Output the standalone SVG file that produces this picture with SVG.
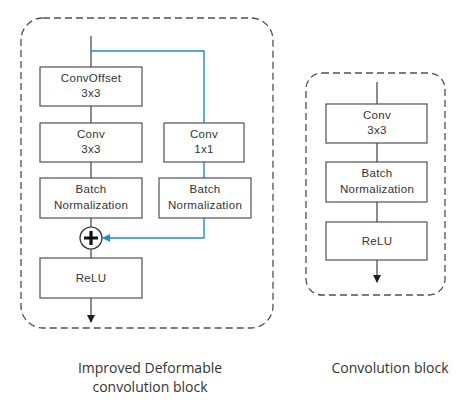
<svg xmlns="http://www.w3.org/2000/svg" width="474" height="411" viewBox="0 0 474 411">
<defs>
<style>
.blk{fill:#fff;stroke:#505050;stroke-width:1.2}
.dash{fill:none;stroke:#505050;stroke-width:1.3;stroke-dasharray:7 4}
.ln{fill:none;stroke:#404040;stroke-width:1.2}
.bl{fill:none;stroke:#1a8fd0;stroke-width:1.4}
.t{font-family:"Liberation Sans",Arial,sans-serif;font-size:11.5px;letter-spacing:0.3px;fill:#333;text-anchor:middle}
.cap{font-family:"Open Sans","Liberation Sans",sans-serif;font-size:14px;fill:#333;text-anchor:middle}
</style>
<marker id="ak" markerWidth="8" markerHeight="8" refX="7" refY="4" orient="auto" markerUnits="userSpaceOnUse"><path d="M0,0 L8,4 L0,8 Z" fill="#202020"/></marker>
<marker id="ab" markerWidth="8" markerHeight="8" refX="7" refY="4" orient="auto" markerUnits="userSpaceOnUse"><path d="M0,0 L8,4 L0,8 Z" fill="#1a8fd0"/></marker>
</defs>
<rect width="474" height="411" fill="#fff"/>
<rect class="dash" x="21" y="18" width="252" height="310" rx="22"/>
<rect class="dash" x="306" y="73" width="139" height="222" rx="16"/>
<g id="connectors">
<path class="ln" d="M91,36 V67"/>
<path class="ln" d="M91,106 V123"/>
<path class="ln" d="M91,162 V178"/>
<path class="ln" d="M91,218 V227"/>
<path class="ln" d="M91,249 V258"/>
<path class="ln" d="M91,298 V322" marker-end="url(#ak)"/>
<path class="bl" d="M91,51 H204 V123"/>
<path class="bl" d="M204,162 V178"/>
<path class="bl" d="M204,218 V238 H103" marker-end="url(#ab)"/>
<path class="ln" d="M377,82 V104"/>
<path class="ln" d="M377,143 V162"/>
<path class="ln" d="M377,202 V222"/>
<path class="ln" d="M377,260 V282" marker-end="url(#ak)"/>
</g>
<g id="convoffset"><rect class="blk" x="40" y="67" width="102" height="39"/><text class="t" x="91" y="82">ConvOffset</text><text class="t" x="91" y="97">3x3</text></g>
<g id="conv3x3"><rect class="blk" x="40" y="123" width="102" height="39"/><text class="t" x="91" y="138">Conv</text><text class="t" x="91" y="153">3x3</text></g>
<g id="conv1x1"><rect class="blk" x="164" y="123" width="80" height="39"/><text class="t" x="204" y="138">Conv</text><text class="t" x="204" y="153">1x1</text></g>
<g id="bn1"><rect class="blk" x="40" y="178" width="102" height="40"/><text class="t" x="91" y="193">Batch</text><text class="t" x="91" y="209">Normalization</text></g>
<g id="bn2"><rect class="blk" x="159" y="178" width="92" height="40"/><text class="t" x="205" y="193">Batch</text><text class="t" x="205" y="209">Normalization</text></g>
<g id="add"><circle cx="91" cy="238" r="11" fill="#fff" stroke="#303030" stroke-width="1.2"/><path d="M84,238 H98 M91,231 V245" stroke="#111" stroke-width="3.2"/></g>
<g id="relu1"><rect class="blk" x="40" y="258" width="102" height="40"/><text class="t" x="91" y="282">ReLU</text></g>
<g id="conv_b"><rect class="blk" x="326" y="104" width="101" height="39"/><text class="t" x="377" y="119">Conv</text><text class="t" x="377" y="134">3x3</text></g>
<g id="bn_b"><rect class="blk" x="326" y="162" width="101" height="40"/><text class="t" x="377" y="177">Batch</text><text class="t" x="377" y="193">Normalization</text></g>
<g id="relu_b"><rect class="blk" x="326" y="222" width="101" height="38"/><text class="t" x="377" y="245">ReLU</text></g>
<g id="captions">
<text class="cap" x="150" y="373">Improved Deformable</text>
<text class="cap" x="150" y="392">convolution block</text>
<text class="cap" x="390" y="373">Convolution block</text>
</g>
</svg>
